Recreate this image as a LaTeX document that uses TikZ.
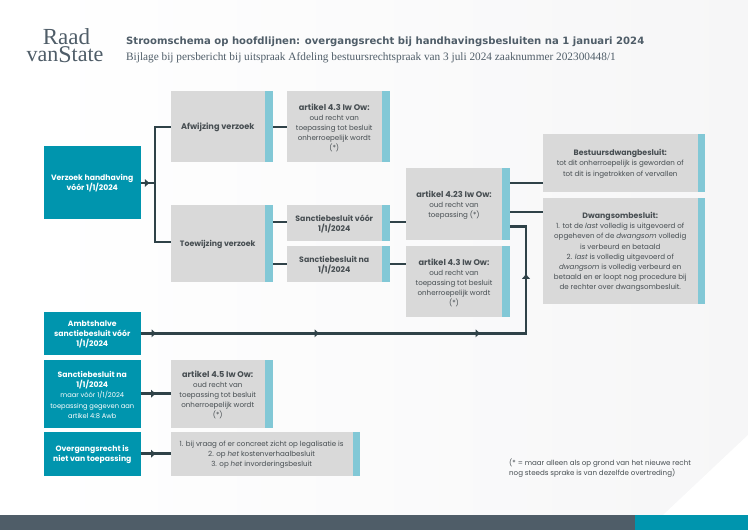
\documentclass[tikz,border=0pt]{standalone}
\usepackage{fontspec}
\setmainfont{Poppins}
\newfontfamily\serifface{Liberation Serif}
\newfontfamily\titleface[BoldFont={DejaVu Sans Bold}]{DejaVu Sans}
\usetikzlibrary{decorations.markings,arrows.meta,calc}
\definecolor{teal}{HTML}{0095AE}
\definecolor{graybox}{HTML}{D9D9D9}
\definecolor{bluebar}{HTML}{82C8D6}
\definecolor{darkline}{HTML}{2F4248}
\definecolor{darkbar}{HTML}{4F5D68}
\definecolor{txt}{HTML}{474E52}
\definecolor{bgpale}{HTML}{F6F6F7}
\newcommand{\hd}[1]{{\fontsize{7.8}{10.1}\selectfont\textbf{#1}}}
\newcommand{\hdl}[1]{{\fontsize{8.2}{10.1}\selectfont\textbf{#1}}}
\newcommand{\tsm}[1]{{\fontsize{6.7}{10.1}\selectfont #1}}
\tikzset{
  boxtext/.style={font=\fontsize{7.1}{10.1}\selectfont,text=txt,align=center},
  tealtext/.style={font=\fontsize{7.7}{10.1}\selectfont,text=white,align=center},
  conn/.style={draw=darkline,line width=2.5pt},
  tipped/.style={postaction={decorate},decoration={markings,mark=at position #1 with {\fill[darkline] (-1.5pt,-4pt) -- (3pt,0) -- (-1.5pt,4pt) -- cycle;}}},
}
\newcommand{\graybox}[6]{%
  \fill[graybox] (#2,#3) rectangle (#4,#5);
  \fill[bluebar] (#4,#3) rectangle ($(#4,#5)+(7.7,0)$);
  \node[boxtext,inner sep=0pt,yshift=-1.2pt] at ({(#2+#4)/2},{(#3+#5)/2}) {#6};
}
\newcommand{\tealbox}[6]{%
  \fill[teal] (#2,#3) rectangle (#4,#5);
  \node[tealtext,inner sep=0pt,yshift=-1.2pt] at ({(#2+#4)/2},{(#3+#5)/2}) {#6};
}
\begin{document}
\begin{tikzpicture}[x=1pt,y=-1pt]
\useasboundingbox (0,0) rectangle (748,530);
\fill[white] (0,0) rectangle (748,530);
\fill[left color=white,right color=bgpale] (40,0) rectangle (748,515);
\fill[white] (748,435) -- (663,515) -- (748,515) -- cycle;
\fill[darkbar] (0,515) rectangle (634.5,530);
\fill[teal] (634.5,515) rectangle (748,530);
% logo
\node[anchor=base,font=\serifface\fontsize{23}{23}\selectfont,text=darkbar,inner sep=0pt] (logoa) at (66.5,45) {Raad};
\node[anchor=base,font=\serifface\fontsize{22}{22}\selectfont,text=darkbar,inner sep=0pt] (logob) at (65,61.5) {van\raisebox{-1.5pt}{\fontsize{24}{24}\selectfont S}tate};
% title
\node[anchor=west,inner sep=0pt,font=\titleface\bfseries\fontsize{10.08}{12}\selectfont,text=darkbar] (title) at (126,42) {Stroomschema op hoofdlijnen: overgangsrecht bij handhavingsbesluiten na 1 januari 2024};
\node[anchor=west,inner sep=0pt,font=\serifface\fontsize{11.3}{13}\selectfont,text=darkbar] (sub) at (126,57.5) {Bijlage bij persbericht bij uitspraak Afdeling bestuursrechtspraak van 3 juli 2024 zaaknummer 202300448/1};
% connectors
\draw[conn,tipped=0.4] (140.5,183) -- (155,183);
\draw[conn] (170.5,127) -- (155,127) -- (155,242) -- (170.5,242);
\draw[conn] (273,127) -- (286.5,127);
\draw[conn] (273,222) -- (286.5,222);
\draw[conn] (273,264) -- (286.5,264);
\draw[conn] (389.5,222) -- (406,222);
\draw[conn] (389.5,264) -- (406,264);
\draw[conn] (510,183) -- (543,183);
\draw[conn] (510,212) -- (543,212);
\draw[conn,postaction={decorate},decoration={markings,
  mark=at position 12.5pt with {\fill[darkline] (-1.5pt,-4pt) -- (3pt,0) -- (-1.5pt,4pt) -- cycle;},
  mark=at position 175.5pt with {\fill[darkline] (-1.5pt,-4pt) -- (3pt,0) -- (-1.5pt,4pt) -- cycle;},
  mark=at position 336.5pt with {\fill[darkline] (-1.5pt,-4pt) -- (3pt,0) -- (-1.5pt,4pt) -- cycle;},
  mark=at position 441.5pt with {\fill[darkline] (-1.5pt,-4pt) -- (3pt,0) -- (-1.5pt,4pt) -- cycle;}}]
  (140.5,333.3) -- (526,333.3) -- (526,226.7) -- (510,226.7);
\draw[conn,tipped=0.4] (140.5,393.7) -- (170.5,393.7);
\draw[conn,tipped=0.4] (140.5,453.7) -- (170.5,453.7);
% teal boxes
\tealbox{a}{44}{146}{140.5}{218.5}{\textbf{Verzoek handhaving}\\\textbf{vóór 1/1/2024}}
\tealbox{b}{44}{311.5}{140.5}{355}{\textbf{Ambtshalve}\\\textbf{sanctiebesluit vóór}\\\textbf{1/1/2024}}
\tealbox{c}{44}{360}{140.5}{427.5}{\textbf{Sanctiebesluit na}\\\textbf{1/1/2024}\\\tsm{maar vóór 1/1/2024}\\\tsm{toepassing gegeven aan}\\\tsm{artikel 4:8 Awb}}
\tealbox{d}{44}{431.7}{140.5}{475.5}{\textbf{Overgangsrecht is}\\\textbf{niet van toepassing}}
% gray boxes
\graybox{e}{170.5}{91}{265}{162}{\hdl{Afwijzing verzoek}}
\graybox{f}{286.5}{91}{382}{162}{\hdl{artikel 4.3 Iw Ow:}\\oud recht van\\toepassing tot besluit\\onherroepelijk wordt\\(*)}
\graybox{g}{170.5}{204.5}{265}{282}{\hd{Toewijzing verzoek}}
\graybox{h}{286.5}{204.5}{382}{240.5}{\hd{Sanctiebesluit vóór}\\\hd{1/1/2024}}
\graybox{i}{286.5}{246}{382}{282}{\hd{Sanctiebesluit na}\\\hd{1/1/2024}}
\graybox{j}{406}{168}{502}{240}{\hdl{artikel 4.23 Iw Ow:}\\oud recht van\\toepassing (*)}
\graybox{k}{406}{246}{502}{317}{\hdl{artikel 4.3 Iw Ow:}\\oud recht van\\toepassing tot besluit\\onherroepelijk wordt\\(*)}
\graybox{l}{543}{133.5}{697.5}{191.7}{\hd{Bestuursdwangbesluit:}\\tot dit onherroepelijk is geworden of\\tot dit is ingetrokken of vervallen}
\graybox{m}{543}{197.5}{697.5}{304}{\hd{Dwangsombesluit:}\\1. tot de \textit{last} volledig is uitgevoerd of\\opgeheven of de \textit{dwangsom} volledig\\is verbeurd en betaald\\2. \textit{last} is volledig uitgevoerd of\\\textit{dwangsom} is volledig verbeurd en\\betaald en er loopt nog procedure bij\\de rechter over dwangsombesluit.}
\graybox{n}{170.5}{360}{265}{427.5}{\hdl{artikel 4.5 Iw Ow:}\\oud recht van\\toepassing tot besluit\\onherroepelijk wordt\\(*)}
\graybox{o}{170.5}{431.7}{352.7}{475.5}{1. bij vraag of er concreet zicht op legalisatie is\\2. op \textit{het} kostenverhaalbesluit\\3. op \textit{het} invorderingsbesluit}
\node[anchor=north west,inner sep=0pt,align=left,font=\fontsize{7.1}{9.5}\selectfont,text=txt] (note) at (509,459) {(* = maar alleen als op grond van het nieuwe recht\\nog steeds sprake is van dezelfde overtreding)};
\end{tikzpicture}
\end{document}
